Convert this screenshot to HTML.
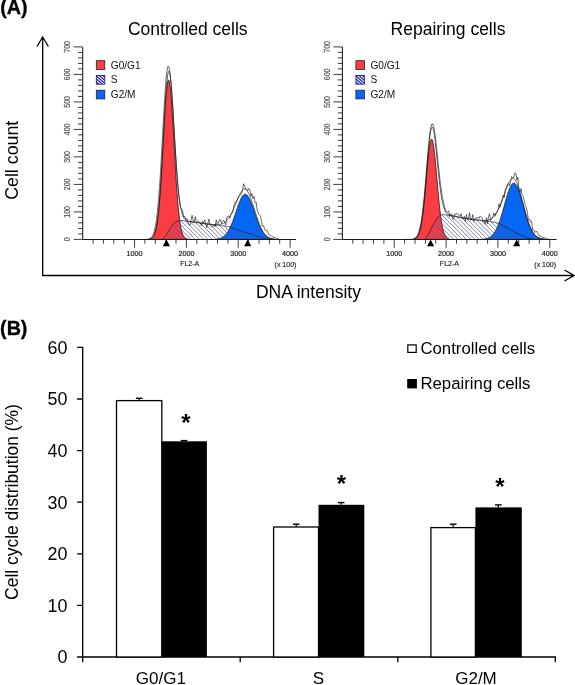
<!DOCTYPE html>
<html><head><meta charset="utf-8"><title>Figure</title>
<style>html,body{margin:0;padding:0;background:#fff}svg{display:block}</style></head>
<body>
<svg width="575" height="685" viewBox="0 0 575 685" font-family="'Liberation Sans', Arial, sans-serif">
<rect width="575" height="685" fill="#fff"/>
<text x="0.3" y="14.3" font-size="19.7" font-weight="bold" fill="#000" stroke="#000" stroke-width="0.35">(A)</text>
<text x="0.1" y="334.9" font-size="19.7" font-weight="bold" fill="#000" stroke="#000" stroke-width="0.35">(B)</text>
<text x="187.8" y="35" font-size="17.5" text-anchor="middle" fill="#000">Controlled cells</text>
<text x="448" y="35" font-size="17.5" text-anchor="middle" fill="#000">Repairing cells</text>
<text transform="translate(17.6,160.3) rotate(-90)" font-size="17.8" text-anchor="middle" fill="#000">Cell count</text>
<text x="308.4" y="297.7" font-size="17.5" text-anchor="middle" fill="#000">DNA intensity</text>
<path d="M42.7,37 V275.5 H574 M37,46.5 L42.7,37 L48.4,46.5 M564.5,270 L574,275.5 L564.5,281" fill="none" stroke="#000" stroke-width="1.3"/>
<defs><clipPath id="clipSL"><path d="M161.2,239.4 L161.7,239.3 L162.2,239.1 L162.7,238.7 L163.2,238.3 L163.7,237.9 L164.2,237.4 L164.7,236.9 L165.2,236.3 L165.7,235.6 L166.2,234.9 L166.7,234.1 L167.2,233.3 L167.7,232.5 L168.2,231.7 L168.7,230.9 L169.2,230 L169.7,229.1 L170.2,228.2 L170.7,227.4 L171.2,226.6 L171.7,225.8 L172.2,225.1 L172.7,224.6 L173.2,224.1 L173.7,223.6 L174.2,223.1 L174.7,222.7 L175.2,222.3 L175.7,222 L176.2,221.7 L176.7,221.4 L177.2,221.3 L177.7,221.1 L178.2,220.9 L178.7,220.8 L179.2,220.6 L179.7,220.6 L180.2,220.5 L180.7,220.5 L181.2,220.5 L181.7,220.5 L182.2,220.6 L182.7,220.6 L183.2,220.6 L183.7,220.7 L184.2,220.8 L184.7,220.8 L185.2,220.9 L185.7,221 L186.2,221 L186.7,221.1 L187.2,221.2 L187.7,221.3 L188.2,221.3 L188.7,221.4 L189.2,221.5 L189.7,221.6 L190.2,221.6 L190.7,221.7 L191.2,221.8 L191.7,221.8 L192.2,221.9 L192.7,222 L193.2,222 L193.7,222.1 L194.2,222.2 L194.7,222.2 L195.2,222.3 L195.7,222.4 L196.2,222.4 L196.7,222.5 L197.2,222.6 L197.7,222.7 L198.2,222.7 L198.7,222.8 L199.2,222.9 L199.7,222.9 L200.2,223 L200.7,223.1 L201.2,223.2 L201.7,223.2 L202.2,223.3 L202.7,223.4 L203.2,223.4 L203.7,223.5 L204.2,223.6 L204.7,223.6 L205.2,223.7 L205.7,223.8 L206.2,223.8 L206.7,223.9 L207.2,224 L207.7,224 L208.2,224.1 L208.7,224.1 L209.2,224.2 L209.7,224.3 L210.2,224.3 L210.7,224.4 L211.2,224.4 L211.7,224.5 L212.2,224.6 L212.7,224.6 L213.2,224.7 L213.7,224.7 L214.2,224.8 L214.7,224.8 L215.2,224.9 L215.7,225 L216.2,225 L216.7,225.1 L217.2,225.1 L217.7,225.2 L218.2,225.3 L218.7,225.3 L219.2,225.4 L219.7,225.4 L220.2,225.5 L220.7,225.6 L221.2,225.6 L221.7,225.7 L222.2,225.7 L222.7,225.8 L223.2,225.8 L223.7,225.9 L224.2,226 L224.7,226 L225.2,226.1 L225.7,226.2 L226.2,226.2 L226.7,226.3 L227.2,226.4 L227.7,226.5 L228.2,226.6 L228.7,226.7 L229.2,226.8 L229.7,227 L230.2,227.1 L230.7,227.3 L231.2,227.4 L231.7,227.6 L232.2,227.8 L232.7,228 L233.2,228.1 L233.7,228.3 L234.2,228.5 L234.7,228.7 L235.2,228.9 L235.7,229.1 L236.2,229.3 L236.7,229.4 L237.2,229.6 L237.7,229.8 L238.2,229.9 L238.7,230.1 L239.2,230.2 L239.7,230.4 L240.2,230.6 L240.7,230.7 L241.2,230.9 L241.7,231 L242.2,231.2 L242.7,231.3 L243.2,231.5 L243.7,231.6 L244.2,231.8 L244.7,232 L245.2,232.1 L245.7,232.3 L246.2,232.4 L246.7,232.6 L247.2,232.8 L247.7,232.9 L248.2,233.1 L248.7,233.3 L249.2,233.4 L249.7,233.6 L250.2,233.8 L250.7,234 L251.2,234.2 L251.7,234.3 L252.2,234.5 L252.7,234.7 L253.2,234.9 L253.7,235.1 L254.2,235.2 L254.7,235.4 L255.2,235.6 L255.7,235.8 L256.2,235.9 L256.7,236.1 L257.2,236.3 L257.7,236.4 L258.2,236.6 L258.7,236.8 L259.2,236.9 L259.7,237.1 L260.2,237.3 L260.7,237.4 L261.2,237.6 L261.7,237.8 L262.2,237.9 L262.7,238.1 L263.2,238.2 L263.7,238.3 L264.2,238.4 L264.7,238.6 L265.2,238.7 L265.7,238.8 L266.2,238.9 L266.7,239 L267.2,239.1 L267.7,239.2 L268.2,239.3 L268.7,239.4 L268.7,239.4 L161.2,239.4 Z"/></clipPath></defs>
<path d="M149.2,239.1 L149.7,239.1 L150.2,238.9 L150.7,238.7 L151.2,238.5 L151.7,238.2 L152.2,237.8 L152.7,237.3 L153.2,236.7 L153.7,235.9 L154.2,234.8 L154.7,233.6 L155.2,232.1 L155.7,230.2 L156.2,228 L156.7,225.3 L157.2,222.2 L157.7,218.6 L158.2,214.4 L158.7,209.7 L159.2,204.3 L159.7,198.4 L160.2,191.8 L160.7,184.7 L161.2,177 L161.7,168.9 L162.2,160.4 L162.7,151.6 L163.2,142.7 L163.7,133.7 L164.2,125 L164.7,116.5 L165.2,108.6 L165.7,101.3 L166.2,94.9 L166.7,89.5 L167.2,85.2 L167.7,82.1 L168.2,80.3 L168.7,79.9 L169.2,80.9 L169.7,83.2 L170.2,86.7 L170.7,91.5 L171.2,97.4 L171.7,104.1 L172.2,111.7 L172.7,119.8 L173.2,128.4 L173.7,137.3 L174.2,146.2 L174.7,155.1 L175.2,163.8 L175.7,172.2 L176.2,180.2 L176.7,187.6 L177.2,194.5 L177.7,200.8 L178.2,206.6 L178.7,211.7 L179.2,216.2 L179.7,220.1 L180.2,223.5 L180.7,226.4 L181.2,228.9 L181.7,231 L182.2,232.7 L182.7,234.1 L183.2,235.3 L183.7,236.2 L184.2,236.9 L184.7,237.5 L185.2,238 L185.7,238.3 L186.2,238.6 L186.7,238.8 L187.2,239 L187.7,239.1 L188.2,239.2 L188.2,239.4 L149.2,239.4 Z" fill="#fa3d43" stroke="#111" stroke-width="0.75"/>
<path d="M215.7,239.1 L216.2,239.1 L216.7,239 L217.2,239 L217.7,238.9 L218.2,238.8 L218.7,238.7 L219.2,238.6 L219.7,238.4 L220.2,238.3 L220.7,238.1 L221.2,237.9 L221.7,237.7 L222.2,237.4 L222.7,237.1 L223.2,236.8 L223.7,236.5 L224.2,236.1 L224.7,235.6 L225.2,235.1 L225.7,234.6 L226.2,234 L226.7,233.4 L227.2,232.7 L227.7,232 L228.2,231.2 L228.7,230.3 L229.2,229.4 L229.7,228.5 L230.2,227.4 L230.7,226.3 L231.2,225.2 L231.7,224 L232.2,222.7 L232.7,221.4 L233.2,220.1 L233.7,218.7 L234.2,217.3 L234.7,215.8 L235.2,214.4 L235.7,212.9 L236.2,211.4 L236.7,209.9 L237.2,208.4 L237.7,207 L238.2,205.6 L238.7,204.2 L239.2,202.9 L239.7,201.6 L240.2,200.4 L240.7,199.3 L241.2,198.3 L241.7,197.4 L242.2,196.5 L242.7,195.8 L243.2,195.3 L243.7,194.8 L244.2,194.5 L244.7,194.3 L245.2,194.2 L245.7,194.3 L246.2,194.5 L246.7,194.8 L247.2,195.3 L247.7,195.8 L248.2,196.5 L248.7,197.4 L249.2,198.3 L249.7,199.3 L250.2,200.4 L250.7,201.6 L251.2,202.9 L251.7,204.2 L252.2,205.6 L252.7,207 L253.2,208.4 L253.7,209.9 L254.2,211.4 L254.7,212.9 L255.2,214.4 L255.7,215.8 L256.2,217.3 L256.7,218.7 L257.2,220.1 L257.7,221.4 L258.2,222.7 L258.7,224 L259.2,225.2 L259.7,226.3 L260.2,227.4 L260.7,228.5 L261.2,229.4 L261.7,230.3 L262.2,231.2 L262.7,232 L263.2,232.7 L263.7,233.4 L264.2,234 L264.7,234.6 L265.2,235.1 L265.7,235.6 L266.2,236.1 L266.7,236.5 L267.2,236.8 L267.7,237.1 L268.2,237.4 L268.7,237.7 L269.2,237.9 L269.7,238.1 L270.2,238.3 L270.7,238.4 L271.2,238.6 L271.7,238.7 L272.2,238.8 L272.7,238.9 L273.2,239 L273.7,239 L274.2,239.1 L274.7,239.1 L274.7,239.4 L215.7,239.4 Z" fill="#0767f5" stroke="#111" stroke-width="0.75"/>
<g clip-path="url(#clipSL)"><path d="M127.2,209.4 l30,30 M131.4,209.4 l30,30 M135.7,209.4 l30,30 M139.9,209.4 l30,30 M144.1,209.4 l30,30 M148.3,209.4 l30,30 M152.6,209.4 l30,30 M156.8,209.4 l30,30 M161,209.4 l30,30 M165.3,209.4 l30,30 M169.5,209.4 l30,30 M173.7,209.4 l30,30 M178,209.4 l30,30 M182.2,209.4 l30,30 M186.4,209.4 l30,30 M190.6,209.4 l30,30 M194.9,209.4 l30,30 M199.1,209.4 l30,30 M203.3,209.4 l30,30 M207.6,209.4 l30,30 M211.8,209.4 l30,30 M216,209.4 l30,30 M220.3,209.4 l30,30 M224.5,209.4 l30,30 M228.7,209.4 l30,30 M232.9,209.4 l30,30 M237.2,209.4 l30,30 M241.4,209.4 l30,30 M245.6,209.4 l30,30 M249.9,209.4 l30,30 M254.1,209.4 l30,30 M258.3,209.4 l30,30 M262.6,209.4 l30,30 M266.8,209.4 l30,30 M271,209.4 l30,30" stroke="#4a4a92" stroke-width="0.68" fill="none"/></g>
<path d="M161.2,239.4 L161.7,239.3 L162.2,239.1 L162.7,238.7 L163.2,238.3 L163.7,237.9 L164.2,237.4 L164.7,236.9 L165.2,236.3 L165.7,235.6 L166.2,234.9 L166.7,234.1 L167.2,233.3 L167.7,232.5 L168.2,231.7 L168.7,230.9 L169.2,230 L169.7,229.1 L170.2,228.2 L170.7,227.4 L171.2,226.6 L171.7,225.8 L172.2,225.1 L172.7,224.6 L173.2,224.1 L173.7,223.6 L174.2,223.1 L174.7,222.7 L175.2,222.3 L175.7,222 L176.2,221.7 L176.7,221.4 L177.2,221.3 L177.7,221.1 L178.2,220.9 L178.7,220.8 L179.2,220.6 L179.7,220.6 L180.2,220.5 L180.7,220.5 L181.2,220.5 L181.7,220.5 L182.2,220.6 L182.7,220.6 L183.2,220.6 L183.7,220.7 L184.2,220.8 L184.7,220.8 L185.2,220.9 L185.7,221 L186.2,221 L186.7,221.1 L187.2,221.2 L187.7,221.3 L188.2,221.3 L188.7,221.4 L189.2,221.5 L189.7,221.6 L190.2,221.6 L190.7,221.7 L191.2,221.8 L191.7,221.8 L192.2,221.9 L192.7,222 L193.2,222 L193.7,222.1 L194.2,222.2 L194.7,222.2 L195.2,222.3 L195.7,222.4 L196.2,222.4 L196.7,222.5 L197.2,222.6 L197.7,222.7 L198.2,222.7 L198.7,222.8 L199.2,222.9 L199.7,222.9 L200.2,223 L200.7,223.1 L201.2,223.2 L201.7,223.2 L202.2,223.3 L202.7,223.4 L203.2,223.4 L203.7,223.5 L204.2,223.6 L204.7,223.6 L205.2,223.7 L205.7,223.8 L206.2,223.8 L206.7,223.9 L207.2,224 L207.7,224 L208.2,224.1 L208.7,224.1 L209.2,224.2 L209.7,224.3 L210.2,224.3 L210.7,224.4 L211.2,224.4 L211.7,224.5 L212.2,224.6 L212.7,224.6 L213.2,224.7 L213.7,224.7 L214.2,224.8 L214.7,224.8 L215.2,224.9 L215.7,225 L216.2,225 L216.7,225.1 L217.2,225.1 L217.7,225.2 L218.2,225.3 L218.7,225.3 L219.2,225.4 L219.7,225.4 L220.2,225.5 L220.7,225.6 L221.2,225.6 L221.7,225.7 L222.2,225.7 L222.7,225.8 L223.2,225.8 L223.7,225.9 L224.2,226 L224.7,226 L225.2,226.1 L225.7,226.2 L226.2,226.2 L226.7,226.3 L227.2,226.4 L227.7,226.5 L228.2,226.6 L228.7,226.7 L229.2,226.8 L229.7,227 L230.2,227.1 L230.7,227.3 L231.2,227.4 L231.7,227.6 L232.2,227.8 L232.7,228 L233.2,228.1 L233.7,228.3 L234.2,228.5 L234.7,228.7 L235.2,228.9 L235.7,229.1 L236.2,229.3 L236.7,229.4 L237.2,229.6 L237.7,229.8 L238.2,229.9 L238.7,230.1 L239.2,230.2 L239.7,230.4 L240.2,230.6 L240.7,230.7 L241.2,230.9 L241.7,231 L242.2,231.2 L242.7,231.3 L243.2,231.5 L243.7,231.6 L244.2,231.8 L244.7,232 L245.2,232.1 L245.7,232.3 L246.2,232.4 L246.7,232.6 L247.2,232.8 L247.7,232.9 L248.2,233.1 L248.7,233.3 L249.2,233.4 L249.7,233.6 L250.2,233.8 L250.7,234 L251.2,234.2 L251.7,234.3 L252.2,234.5 L252.7,234.7 L253.2,234.9 L253.7,235.1 L254.2,235.2 L254.7,235.4 L255.2,235.6 L255.7,235.8 L256.2,235.9 L256.7,236.1 L257.2,236.3 L257.7,236.4 L258.2,236.6 L258.7,236.8 L259.2,236.9 L259.7,237.1 L260.2,237.3 L260.7,237.4 L261.2,237.6 L261.7,237.8 L262.2,237.9 L262.7,238.1 L263.2,238.2 L263.7,238.3 L264.2,238.4 L264.7,238.6 L265.2,238.7 L265.7,238.8 L266.2,238.9 L266.7,239 L267.2,239.1 L267.7,239.2 L268.2,239.3 L268.7,239.4" fill="none" stroke="#222" stroke-width="0.75"/>
<path d="M149.2,239.1 L149.7,239.1 L150.2,238.9 L150.7,238.7 L151.2,238.5 L151.7,238.2 L152.2,237.8 L152.7,237.3 L153.2,236.7 L153.7,235.9 L154.2,234.8 L154.7,233.6 L155.2,232.1 L155.7,230.2 L156.2,228 L156.7,225.3 L157.2,222.2 L157.7,218.6 L158.2,214.4 L158.7,209.7 L159.2,204.3 L159.7,198.4 L160.2,191.8 L160.7,184.7 L161.2,177 L161.7,168.8 L162.2,160 L162.7,150.9 L163.2,141.6 L163.7,132.2 L164.2,123 L164.7,114 L165.2,105.5 L165.7,97.5 L166.2,90.4 L166.7,84.2 L167.2,79 L167.7,75.2 L168.2,72.6 L168.7,71.4 L169.2,71.5 L169.7,72.9 L170.2,75.6 L170.7,79.5 L171.2,84.5 L171.7,90.5 L172.2,97.4 L172.7,105 L173.2,113.1 L173.7,121.5 L174.2,130 L174.7,138.4 L175.2,146.7 L175.7,154.8 L176.2,162.4 L176.7,169.7 L177.2,176.4 L177.7,182.5 L178.2,188.1 L178.7,193 L179.2,197.4 L179.7,201.3 L180.2,204.6 L180.7,207.5 L181.2,210 L181.7,212.1 L182.2,213.9 L182.7,215.3 L183.2,216.5 L183.7,217.5 L184.2,218.3 L184.7,219 L185.2,219.5 L185.7,219.9 L186.2,220.3 L186.7,220.5 L187.2,220.8 L187.7,221 L188.2,221.1 L188.7,221.3 L189.2,221.4 L189.7,221.5 L190.2,221.6 L190.7,221.7 L191.2,221.7 L191.7,221.8 L192.2,221.9 L192.7,221.9 L193.2,222 L193.7,222.1 L194.2,222.2 L194.7,222.2 L195.2,222.3 L195.7,222.4 L196.2,222.4 L196.7,222.5 L197.2,222.6 L197.7,222.7 L198.2,222.7 L198.7,222.8 L199.2,222.9 L199.7,222.9 L200.2,223 L200.7,223.1 L201.2,223.2 L201.7,223.2 L202.2,223.3 L202.7,223.4 L203.2,223.4 L203.7,223.5 L204.2,223.6 L204.7,223.6 L205.2,223.7 L205.7,223.8 L206.2,223.8 L206.7,223.9 L207.2,224 L207.7,224 L208.2,224.1 L208.7,224.1 L209.2,224.2 L209.7,224.2 L210.2,224.3 L210.7,224.3 L211.2,224.4 L211.7,224.4 L212.2,224.5 L212.7,224.5 L213.2,224.6 L213.7,224.6 L214.2,224.6 L214.7,224.7 L215.2,224.7 L215.7,224.7 L216.2,224.7 L216.7,224.7 L217.2,224.7 L217.7,224.7 L218.2,224.7 L218.7,224.6 L219.2,224.6 L219.7,224.5 L220.2,224.4 L220.7,224.3 L221.2,224.2 L221.7,224 L222.2,223.8 L222.7,223.6 L223.2,223.4 L223.7,223.1 L224.2,222.8 L224.7,222.4 L225.2,222 L225.7,221.6 L226.2,221.1 L226.7,220.6 L227.2,220.1 L227.7,219.4 L228.2,218.8 L228.7,218.1 L229.2,217.4 L229.7,216.6 L230.2,215.7 L230.7,214.9 L231.2,213.9 L231.7,213 L232.2,211.9 L232.7,210.9 L233.2,209.8 L233.7,208.7 L234.2,207.5 L234.7,206.3 L235.2,205.1 L235.7,203.9 L236.2,202.6 L236.7,201.4 L237.2,200.2 L237.7,199 L238.2,197.8 L238.7,196.6 L239.2,195.5 L239.7,194.5 L240.2,193.5 L240.7,192.6 L241.2,191.8 L241.7,191.1 L242.2,190.5 L242.7,189.9 L243.2,189.5 L243.7,189.3 L244.2,189.1 L244.7,189.1 L245.2,189.2 L245.7,189.4 L246.2,189.8 L246.7,190.2 L247.2,190.8 L247.7,191.6 L248.2,192.4 L248.7,193.3 L249.2,194.4 L249.7,195.5 L250.2,196.8 L250.7,198.1 L251.2,199.4 L251.7,200.9 L252.2,202.4 L252.7,203.9 L253.2,205.5 L253.7,207 L254.2,208.6 L254.7,210.2 L255.2,211.8 L255.7,213.4 L256.2,214.9 L256.7,216.4 L257.2,217.9 L257.7,219.4 L258.2,220.8 L258.7,222.1 L259.2,223.5 L259.7,224.7 L260.2,225.9 L260.7,227.1 L261.2,228.1 L261.7,229.2 L262.2,230.1 L262.7,231 L263.2,231.9 L263.7,232.6 L264.2,233.4 L264.7,234 L265.2,234.6 L265.7,235.2 L266.2,235.7 L266.7,236.2 L267.2,236.6 L267.7,237 L268.2,237.4 L268.7,237.7 L269.2,238 L269.7,238.2 L270.2,238.3 L270.7,238.5 L271.2,238.6 L271.7,238.7 L272.2,238.8 L272.7,238.9 L273.2,239 L273.7,239 L274.2,239.1" fill="none" stroke="#1a1a1a" stroke-width="0.68"/>
<path d="M142.7,239.4 L143.8,239.4 L144.8,239.4 L145.9,239.2 L146.9,239.4 L148,239.1 L149,238.9 L150.1,238.7 L151.1,237.4 L152.2,236.2 L153.2,234.4 L154.3,231.2 L155.3,226.4 L156.4,220.2 L157.4,211.5 L158.5,200.6 L159.5,186.5 L160.6,170.6 L161.6,152.7 L162.7,133.7 L163.7,113.8 L164.8,96.5 L165.8,81.9 L166.9,71 L167.9,66.3 L169,67.2 L170,73 L171.1,84.1 L172.1,98 L173.2,115.3 L174.2,133.1 L175.3,149.9 L176.3,166.5 L177.4,179.4 L178.4,192.1 L179.5,200.2 L180.5,207.8 L181.6,208.5 L182.6,210.7 L183.7,217.3 L184.7,216.1 L185.8,219.5 L186.8,218.3 L187.9,222 L188.9,224.7 L190,225.2 L191,219.9 L192.1,215.4 L193.1,220.5 L194.2,222.7 L195.2,216.7 L196.3,221.1 L197.3,221.5 L198.4,221.3 L199.4,222.4 L200.5,223 L201.5,226 L202.6,221.3 L203.6,222.9 L204.7,219.8 L205.7,223.9 L206.8,227.9 L207.8,223.5 L208.9,219.1 L209.9,224.4 L211,225.8 L212,226.6 L213.1,226.3 L214.1,224.5 L215.2,226.7 L216.2,220 L217.3,224.4 L218.3,223.4 L219.4,219.9 L220.4,219.5 L221.5,223.5 L222.5,221.7 L223.6,220.2 L224.6,221.8 L225.7,225 L226.7,217.9 L227.8,216.1 L228.8,216 L229.9,217.9 L230.9,214.4 L232,213.6 L233,210.9 L234.1,204.8 L235.1,202 L236.2,201.8 L237.2,199.7 L238.3,197 L239.3,196.4 L240.4,194.4 L241.4,194 L242.5,190.8 L243.5,183.7 L244.6,186.3 L245.6,188.8 L246.7,189.1 L247.7,190.6 L248.8,188.4 L249.8,189.8 L250.9,196.2 L251.9,193.6 L253,198.7 L254,196.5 L255.1,202.6 L256.1,201.8 L257.2,210.3 L258.2,213 L259.3,214.7 L260.3,215.9 L261.4,219.9 L262.4,226.3 L263.5,225.8 L264.5,228.3 L265.6,230.9 L266.6,230.6 L267.7,231.3 L268.7,234.2 L269.8,235.5 L270.8,235.6 L271.9,236.7 L272.9,236.8 L274,237.4 L275,237.7 L276.1,238.4 L277.1,238.4 L278.2,238.7 L279.2,239.4" fill="none" stroke="#1a1a1a" stroke-width="0.65" stroke-linejoin="round"/>
<path d="M82.7,239.4 h-9 M82.7,233.9 h-4.7 M82.7,228.4 h-4.7 M82.7,222.9 h-4.7 M82.7,217.4 h-4.7 M82.7,211.9 h-9 M82.7,206.4 h-4.7 M82.7,200.9 h-4.7 M82.7,195.4 h-4.7 M82.7,189.9 h-4.7 M82.7,184.4 h-9 M82.7,178.9 h-4.7 M82.7,173.4 h-4.7 M82.7,167.9 h-4.7 M82.7,162.4 h-4.7 M82.7,156.9 h-9 M82.7,151.4 h-4.7 M82.7,145.9 h-4.7 M82.7,140.4 h-4.7 M82.7,134.9 h-4.7 M82.7,129.4 h-9 M82.7,123.9 h-4.7 M82.7,118.4 h-4.7 M82.7,112.9 h-4.7 M82.7,107.4 h-4.7 M82.7,101.9 h-9 M82.7,96.4 h-4.7 M82.7,90.9 h-4.7 M82.7,85.4 h-4.7 M82.7,79.9 h-4.7 M82.7,74.4 h-9 M82.7,68.9 h-4.7 M82.7,63.4 h-4.7 M82.7,57.9 h-4.7 M82.7,52.4 h-4.7 M82.7,46.9 h-9 M93.1,239.4 v4.3 M103.4,239.4 v4.3 M113.8,239.4 v4.3 M124.2,239.4 v4.3 M134.6,239.4 v8.3 M144.9,239.4 v4.3 M155.3,239.4 v4.3 M165.7,239.4 v4.3 M176,239.4 v4.3 M186.4,239.4 v8.3 M196.8,239.4 v4.3 M207.1,239.4 v4.3 M217.5,239.4 v4.3 M227.9,239.4 v4.3 M238.2,239.4 v8.3 M248.6,239.4 v4.3 M259,239.4 v4.3 M269.4,239.4 v4.3 M279.7,239.4 v4.3 M290.1,239.4 v8.3" fill="none" stroke="#333" stroke-width="0.95"/>
<path d="M82.7,46.9 V239.4 H296" fill="none" stroke="#1a1a1a" stroke-width="1.05"/>
<text transform="translate(70,239.4) rotate(-90) scale(0.865,1)" text-anchor="middle" font-size="8.2" fill="#5a5a5a" stroke="#5a5a5a" stroke-width="0.25">0</text>
<text transform="translate(70,211.9) rotate(-90) scale(0.865,1)" text-anchor="middle" font-size="8.2" fill="#5a5a5a" stroke="#5a5a5a" stroke-width="0.25">100</text>
<text transform="translate(70,184.4) rotate(-90) scale(0.865,1)" text-anchor="middle" font-size="8.2" fill="#5a5a5a" stroke="#5a5a5a" stroke-width="0.25">200</text>
<text transform="translate(70,156.9) rotate(-90) scale(0.865,1)" text-anchor="middle" font-size="8.2" fill="#5a5a5a" stroke="#5a5a5a" stroke-width="0.25">300</text>
<text transform="translate(70,129.4) rotate(-90) scale(0.865,1)" text-anchor="middle" font-size="8.2" fill="#5a5a5a" stroke="#5a5a5a" stroke-width="0.25">400</text>
<text transform="translate(70,101.9) rotate(-90) scale(0.865,1)" text-anchor="middle" font-size="8.2" fill="#5a5a5a" stroke="#5a5a5a" stroke-width="0.25">500</text>
<text transform="translate(70,74.4) rotate(-90) scale(0.865,1)" text-anchor="middle" font-size="8.2" fill="#5a5a5a" stroke="#5a5a5a" stroke-width="0.25">600</text>
<text transform="translate(70,46.9) rotate(-90) scale(0.865,1)" text-anchor="middle" font-size="8.2" fill="#5a5a5a" stroke="#5a5a5a" stroke-width="0.25">700</text>
<text x="134.6" y="256.4" text-anchor="middle" font-size="7.2" fill="#222" stroke="#222" stroke-width="0.2">1000</text>
<text x="186.4" y="256.4" text-anchor="middle" font-size="7.2" fill="#222" stroke="#222" stroke-width="0.2">2000</text>
<text x="238.2" y="256.4" text-anchor="middle" font-size="7.2" fill="#222" stroke="#222" stroke-width="0.2">3000</text>
<text x="290.1" y="256.4" text-anchor="middle" font-size="7.2" fill="#222" stroke="#222" stroke-width="0.2">4000</text>
<text x="189.7" y="266.4" text-anchor="middle" font-size="7" fill="#222" stroke="#222" stroke-width="0.15">FL2-A</text>
<text x="285.5" y="266.5" text-anchor="middle" font-size="7" fill="#222" stroke="#222" stroke-width="0.15">(x 100)</text>
<path d="M166.4,239.6 l3.6,6.6 h-7.2 Z" fill="#000"/>
<path d="M247.7,239.6 l3.6,6.6 h-7.2 Z" fill="#000"/>
<rect x="96.3" y="60.7" width="8.5" height="8.7" fill="#fa3d43" stroke="#222" stroke-width="0.8"/>
<rect x="96.3" y="75.5" width="8.5" height="8.7" fill="#fff"/>
<defs><clipPath id="lgL"><rect x="96.3" y="75.5" width="8.5" height="8.7"/></clipPath></defs>
<path clip-path="url(#lgL)" d="M95.8,63.5 l9.5,8.2 M95.8,66.5 l9.5,8.2 M95.8,69.5 l9.5,8.2 M95.8,72.5 l9.5,8.2 M95.8,75.5 l9.5,8.2 M95.8,78.5 l9.5,8.2 M95.8,81.5 l9.5,8.2 M95.8,84.5 l9.5,8.2 M95.8,87.5 l9.5,8.2" stroke="#1818d4" stroke-width="1.15" fill="none"/>
<rect x="96.3" y="75.5" width="8.5" height="8.7" fill="none" stroke="#222" stroke-width="0.8"/>
<rect x="96.3" y="90.2" width="8.5" height="8.7" fill="#0767f5" stroke="#222" stroke-width="0.8"/>
<text x="110.8" y="68.6" font-size="10.15" fill="#111">G0/G1</text>
<text x="110.8" y="83.3" font-size="10.15" fill="#111">S</text>
<text x="110.8" y="98" font-size="10.15" fill="#111">G2/M</text>
<defs><clipPath id="clipSR"><path d="M423.9,239.4 L424.4,239.3 L424.9,238.9 L425.4,238.5 L425.9,237.9 L426.4,237.4 L426.9,236.7 L427.4,236 L427.9,235.2 L428.4,234.3 L428.9,233.4 L429.4,232.5 L429.9,231.5 L430.4,230.6 L430.9,229.5 L431.4,228.5 L431.9,227.4 L432.4,226.4 L432.9,225.4 L433.4,224.4 L433.9,223.4 L434.4,222.6 L434.9,221.7 L435.4,220.9 L435.9,220.1 L436.4,219.2 L436.9,218.4 L437.4,217.7 L437.9,217 L438.4,216.5 L438.9,216.1 L439.4,215.7 L439.9,215.5 L440.4,215.3 L440.9,215.1 L441.4,214.9 L441.9,214.7 L442.4,214.6 L442.9,214.6 L443.4,214.6 L443.9,214.6 L444.4,214.7 L444.9,214.7 L445.4,214.8 L445.9,214.8 L446.4,214.9 L446.9,215 L447.4,215.1 L447.9,215.2 L448.4,215.2 L448.9,215.3 L449.4,215.4 L449.9,215.5 L450.4,215.6 L450.9,215.6 L451.4,215.7 L451.9,215.8 L452.4,215.9 L452.9,216 L453.4,216.1 L453.9,216.2 L454.4,216.3 L454.9,216.3 L455.4,216.4 L455.9,216.5 L456.4,216.6 L456.9,216.7 L457.4,216.8 L457.9,216.9 L458.4,217 L458.9,217.1 L459.4,217.2 L459.9,217.3 L460.4,217.4 L460.9,217.5 L461.4,217.6 L461.9,217.7 L462.4,217.8 L462.9,217.9 L463.4,218 L463.9,218 L464.4,218.1 L464.9,218.2 L465.4,218.3 L465.9,218.3 L466.4,218.4 L466.9,218.5 L467.4,218.6 L467.9,218.7 L468.4,218.7 L468.9,218.8 L469.4,218.9 L469.9,218.9 L470.4,219 L470.9,219.1 L471.4,219.2 L471.9,219.2 L472.4,219.3 L472.9,219.4 L473.4,219.4 L473.9,219.5 L474.4,219.6 L474.9,219.7 L475.4,219.7 L475.9,219.8 L476.4,219.9 L476.9,219.9 L477.4,220 L477.9,220.1 L478.4,220.1 L478.9,220.2 L479.4,220.3 L479.9,220.3 L480.4,220.4 L480.9,220.5 L481.4,220.5 L481.9,220.6 L482.4,220.7 L482.9,220.7 L483.4,220.8 L483.9,220.9 L484.4,220.9 L484.9,221 L485.4,221.1 L485.9,221.1 L486.4,221.2 L486.9,221.3 L487.4,221.3 L487.9,221.4 L488.4,221.4 L488.9,221.5 L489.4,221.5 L489.9,221.6 L490.4,221.7 L490.9,221.7 L491.4,221.8 L491.9,221.8 L492.4,221.9 L492.9,222 L493.4,222 L493.9,222.1 L494.4,222.2 L494.9,222.3 L495.4,222.4 L495.9,222.5 L496.4,222.7 L496.9,222.8 L497.4,223 L497.9,223.2 L498.4,223.4 L498.9,223.6 L499.4,223.9 L499.9,224.1 L500.4,224.4 L500.9,224.6 L501.4,224.9 L501.9,225.1 L502.4,225.4 L502.9,225.6 L503.4,225.8 L503.9,226.1 L504.4,226.4 L504.9,226.6 L505.4,226.9 L505.9,227.2 L506.4,227.5 L506.9,227.8 L507.4,228.1 L507.9,228.3 L508.4,228.6 L508.9,228.9 L509.4,229.2 L509.9,229.5 L510.4,229.8 L510.9,230.1 L511.4,230.4 L511.9,230.6 L512.4,230.9 L512.9,231.2 L513.4,231.4 L513.9,231.7 L514.4,232 L514.9,232.2 L515.4,232.5 L515.9,232.7 L516.4,233 L516.9,233.2 L517.4,233.5 L517.9,233.8 L518.4,234 L518.9,234.2 L519.4,234.5 L519.9,234.7 L520.4,235 L520.9,235.2 L521.4,235.4 L521.9,235.6 L522.4,235.8 L522.9,236 L523.4,236.2 L523.9,236.5 L524.4,236.7 L524.9,236.9 L525.4,237.1 L525.9,237.3 L526.4,237.4 L526.9,237.6 L527.4,237.8 L527.9,238 L528.4,238.1 L528.9,238.3 L529.4,238.4 L529.9,238.5 L530.4,238.6 L530.9,238.8 L531.4,238.9 L531.9,239 L532.4,239.1 L532.9,239.2 L533.4,239.3 L533.9,239.3 L534.4,239.4 L534.4,239.4 L423.9,239.4 Z"/></clipPath></defs>
<path d="M413.4,239.1 L413.9,239 L414.4,238.9 L414.9,238.7 L415.4,238.5 L415.9,238.2 L416.4,237.8 L416.9,237.3 L417.4,236.6 L417.9,235.8 L418.4,234.9 L418.9,233.7 L419.4,232.3 L419.9,230.6 L420.4,228.6 L420.9,226.3 L421.4,223.7 L421.9,220.6 L422.4,217.2 L422.9,213.3 L423.4,209.1 L423.9,204.5 L424.4,199.5 L424.9,194.3 L425.4,188.8 L425.9,183.1 L426.4,177.4 L426.9,171.7 L427.4,166.1 L427.9,160.8 L428.4,155.8 L428.9,151.3 L429.4,147.4 L429.9,144.1 L430.4,141.6 L430.9,140 L431.4,139.2 L431.9,139.3 L432.4,140.2 L432.9,142.1 L433.4,144.7 L433.9,148.1 L434.4,152.2 L434.9,156.8 L435.4,161.8 L435.9,167.2 L436.4,172.8 L436.9,178.6 L437.4,184.3 L437.9,189.9 L438.4,195.4 L438.9,200.6 L439.4,205.4 L439.9,210 L440.4,214.1 L440.9,217.9 L441.4,221.3 L441.9,224.2 L442.4,226.8 L442.9,229.1 L443.4,231 L443.9,232.6 L444.4,234 L444.9,235.1 L445.4,236 L445.9,236.8 L446.4,237.4 L446.9,237.8 L447.4,238.2 L447.9,238.5 L448.4,238.7 L448.9,238.9 L449.4,239 L449.9,239.1 L449.9,239.4 L413.4,239.4 Z" fill="#fa3d43" stroke="#111" stroke-width="0.75"/>
<path d="M482.9,239.1 L483.4,239.1 L483.9,239 L484.4,239 L484.9,238.9 L485.4,238.8 L485.9,238.7 L486.4,238.6 L486.9,238.5 L487.4,238.3 L487.9,238.1 L488.4,237.9 L488.9,237.7 L489.4,237.5 L489.9,237.2 L490.4,236.9 L490.9,236.5 L491.4,236.1 L491.9,235.7 L492.4,235.2 L492.9,234.6 L493.4,234.1 L493.9,233.4 L494.4,232.7 L494.9,231.9 L495.4,231.1 L495.9,230.2 L496.4,229.2 L496.9,228.2 L497.4,227.1 L497.9,225.9 L498.4,224.7 L498.9,223.4 L499.4,222 L499.9,220.5 L500.4,219 L500.9,217.4 L501.4,215.8 L501.9,214.1 L502.4,212.4 L502.9,210.7 L503.4,208.9 L503.9,207.1 L504.4,205.3 L504.9,203.4 L505.4,201.6 L505.9,199.9 L506.4,198.1 L506.9,196.4 L507.4,194.7 L507.9,193.2 L508.4,191.7 L508.9,190.3 L509.4,188.9 L509.9,187.7 L510.4,186.7 L510.9,185.7 L511.4,184.9 L511.9,184.2 L512.4,183.7 L512.9,183.4 L513.4,183.2 L513.9,183.1 L514.4,183.2 L514.9,183.5 L515.4,183.9 L515.9,184.5 L516.4,185.2 L516.9,186.1 L517.4,187.1 L517.9,188.2 L518.4,189.5 L518.9,190.8 L519.4,192.3 L519.9,193.8 L520.4,195.4 L520.9,197.1 L521.4,198.8 L521.9,200.6 L522.4,202.4 L522.9,204.2 L523.4,206 L523.9,207.8 L524.4,209.6 L524.9,211.4 L525.4,213.1 L525.9,214.8 L526.4,216.5 L526.9,218.1 L527.4,219.6 L527.9,221.1 L528.4,222.5 L528.9,223.9 L529.4,225.2 L529.9,226.4 L530.4,227.6 L530.9,228.6 L531.4,229.6 L531.9,230.6 L532.4,231.5 L532.9,232.3 L533.4,233 L533.9,233.7 L534.4,234.3 L534.9,234.9 L535.4,235.4 L535.9,235.9 L536.4,236.3 L536.9,236.7 L537.4,237 L537.9,237.3 L538.4,237.6 L538.9,237.8 L539.4,238 L539.9,238.2 L540.4,238.4 L540.9,238.5 L541.4,238.6 L541.9,238.8 L542.4,238.9 L542.9,238.9 L543.4,239 L543.9,239.1 L544.4,239.1 L544.4,239.4 L482.9,239.4 Z" fill="#0767f5" stroke="#111" stroke-width="0.75"/>
<g clip-path="url(#clipSR)"><path d="M389.9,209.4 l30,30 M394.1,209.4 l30,30 M398.4,209.4 l30,30 M402.6,209.4 l30,30 M406.8,209.4 l30,30 M411.1,209.4 l30,30 M415.3,209.4 l30,30 M419.5,209.4 l30,30 M423.7,209.4 l30,30 M428,209.4 l30,30 M432.2,209.4 l30,30 M436.4,209.4 l30,30 M440.7,209.4 l30,30 M444.9,209.4 l30,30 M449.1,209.4 l30,30 M453.4,209.4 l30,30 M457.6,209.4 l30,30 M461.8,209.4 l30,30 M466,209.4 l30,30 M470.3,209.4 l30,30 M474.5,209.4 l30,30 M478.7,209.4 l30,30 M483,209.4 l30,30 M487.2,209.4 l30,30 M491.4,209.4 l30,30 M495.7,209.4 l30,30 M499.9,209.4 l30,30 M504.1,209.4 l30,30 M508.3,209.4 l30,30 M512.6,209.4 l30,30 M516.8,209.4 l30,30 M521,209.4 l30,30 M525.3,209.4 l30,30 M529.5,209.4 l30,30 M533.7,209.4 l30,30 M538,209.4 l30,30" stroke="#4a4a92" stroke-width="0.68" fill="none"/></g>
<path d="M423.9,239.4 L424.4,239.3 L424.9,238.9 L425.4,238.5 L425.9,237.9 L426.4,237.4 L426.9,236.7 L427.4,236 L427.9,235.2 L428.4,234.3 L428.9,233.4 L429.4,232.5 L429.9,231.5 L430.4,230.6 L430.9,229.5 L431.4,228.5 L431.9,227.4 L432.4,226.4 L432.9,225.4 L433.4,224.4 L433.9,223.4 L434.4,222.6 L434.9,221.7 L435.4,220.9 L435.9,220.1 L436.4,219.2 L436.9,218.4 L437.4,217.7 L437.9,217 L438.4,216.5 L438.9,216.1 L439.4,215.7 L439.9,215.5 L440.4,215.3 L440.9,215.1 L441.4,214.9 L441.9,214.7 L442.4,214.6 L442.9,214.6 L443.4,214.6 L443.9,214.6 L444.4,214.7 L444.9,214.7 L445.4,214.8 L445.9,214.8 L446.4,214.9 L446.9,215 L447.4,215.1 L447.9,215.2 L448.4,215.2 L448.9,215.3 L449.4,215.4 L449.9,215.5 L450.4,215.6 L450.9,215.6 L451.4,215.7 L451.9,215.8 L452.4,215.9 L452.9,216 L453.4,216.1 L453.9,216.2 L454.4,216.3 L454.9,216.3 L455.4,216.4 L455.9,216.5 L456.4,216.6 L456.9,216.7 L457.4,216.8 L457.9,216.9 L458.4,217 L458.9,217.1 L459.4,217.2 L459.9,217.3 L460.4,217.4 L460.9,217.5 L461.4,217.6 L461.9,217.7 L462.4,217.8 L462.9,217.9 L463.4,218 L463.9,218 L464.4,218.1 L464.9,218.2 L465.4,218.3 L465.9,218.3 L466.4,218.4 L466.9,218.5 L467.4,218.6 L467.9,218.7 L468.4,218.7 L468.9,218.8 L469.4,218.9 L469.9,218.9 L470.4,219 L470.9,219.1 L471.4,219.2 L471.9,219.2 L472.4,219.3 L472.9,219.4 L473.4,219.4 L473.9,219.5 L474.4,219.6 L474.9,219.7 L475.4,219.7 L475.9,219.8 L476.4,219.9 L476.9,219.9 L477.4,220 L477.9,220.1 L478.4,220.1 L478.9,220.2 L479.4,220.3 L479.9,220.3 L480.4,220.4 L480.9,220.5 L481.4,220.5 L481.9,220.6 L482.4,220.7 L482.9,220.7 L483.4,220.8 L483.9,220.9 L484.4,220.9 L484.9,221 L485.4,221.1 L485.9,221.1 L486.4,221.2 L486.9,221.3 L487.4,221.3 L487.9,221.4 L488.4,221.4 L488.9,221.5 L489.4,221.5 L489.9,221.6 L490.4,221.7 L490.9,221.7 L491.4,221.8 L491.9,221.8 L492.4,221.9 L492.9,222 L493.4,222 L493.9,222.1 L494.4,222.2 L494.9,222.3 L495.4,222.4 L495.9,222.5 L496.4,222.7 L496.9,222.8 L497.4,223 L497.9,223.2 L498.4,223.4 L498.9,223.6 L499.4,223.9 L499.9,224.1 L500.4,224.4 L500.9,224.6 L501.4,224.9 L501.9,225.1 L502.4,225.4 L502.9,225.6 L503.4,225.8 L503.9,226.1 L504.4,226.4 L504.9,226.6 L505.4,226.9 L505.9,227.2 L506.4,227.5 L506.9,227.8 L507.4,228.1 L507.9,228.3 L508.4,228.6 L508.9,228.9 L509.4,229.2 L509.9,229.5 L510.4,229.8 L510.9,230.1 L511.4,230.4 L511.9,230.6 L512.4,230.9 L512.9,231.2 L513.4,231.4 L513.9,231.7 L514.4,232 L514.9,232.2 L515.4,232.5 L515.9,232.7 L516.4,233 L516.9,233.2 L517.4,233.5 L517.9,233.8 L518.4,234 L518.9,234.2 L519.4,234.5 L519.9,234.7 L520.4,235 L520.9,235.2 L521.4,235.4 L521.9,235.6 L522.4,235.8 L522.9,236 L523.4,236.2 L523.9,236.5 L524.4,236.7 L524.9,236.9 L525.4,237.1 L525.9,237.3 L526.4,237.4 L526.9,237.6 L527.4,237.8 L527.9,238 L528.4,238.1 L528.9,238.3 L529.4,238.4 L529.9,238.5 L530.4,238.6 L530.9,238.8 L531.4,238.9 L531.9,239 L532.4,239.1 L532.9,239.2 L533.4,239.3 L533.9,239.3 L534.4,239.4" fill="none" stroke="#222" stroke-width="0.75"/>
<path d="M413.4,239.1 L413.9,239 L414.4,238.9 L414.9,238.7 L415.4,238.5 L415.9,238.2 L416.4,237.8 L416.9,237.3 L417.4,236.6 L417.9,235.8 L418.4,234.9 L418.9,233.7 L419.4,232.3 L419.9,230.6 L420.4,228.6 L420.9,226.3 L421.4,223.7 L421.9,220.6 L422.4,217.2 L422.9,213.3 L423.4,209.1 L423.9,204.5 L424.4,199.5 L424.9,193.8 L425.4,187.9 L425.9,181.7 L426.4,175.4 L426.9,169 L427.4,162.8 L427.9,156.6 L428.4,150.8 L428.9,145.3 L429.4,140.4 L429.9,136.3 L430.4,132.8 L430.9,130.1 L431.4,128.3 L431.9,127.3 L432.4,127.2 L432.9,128 L433.4,129.7 L433.9,132.1 L434.4,135.3 L434.9,139.1 L435.4,143.3 L435.9,147.9 L436.4,152.7 L436.9,157.6 L437.4,162.6 L437.9,167.6 L438.4,172.5 L438.9,177.2 L439.4,181.8 L439.9,186.1 L440.4,190 L440.9,193.5 L441.4,196.7 L441.9,199.6 L442.4,202.1 L442.9,204.3 L443.4,206.2 L443.9,207.8 L444.4,209.2 L444.9,210.4 L445.4,211.4 L445.9,212.2 L446.4,212.9 L446.9,213.4 L447.4,213.9 L447.9,214.3 L448.4,214.6 L448.9,214.8 L449.4,215.1 L449.9,215.2 L450.4,215.4 L450.9,215.5 L451.4,215.6 L451.9,215.7 L452.4,215.8 L452.9,215.9 L453.4,216 L453.9,216.1 L454.4,216.2 L454.9,216.3 L455.4,216.4 L455.9,216.5 L456.4,216.6 L456.9,216.7 L457.4,216.8 L457.9,216.9 L458.4,217 L458.9,217.1 L459.4,217.2 L459.9,217.3 L460.4,217.4 L460.9,217.5 L461.4,217.6 L461.9,217.7 L462.4,217.8 L462.9,217.9 L463.4,218 L463.9,218 L464.4,218.1 L464.9,218.2 L465.4,218.3 L465.9,218.3 L466.4,218.4 L466.9,218.5 L467.4,218.6 L467.9,218.7 L468.4,218.7 L468.9,218.8 L469.4,218.9 L469.9,218.9 L470.4,219 L470.9,219.1 L471.4,219.2 L471.9,219.2 L472.4,219.3 L472.9,219.4 L473.4,219.4 L473.9,219.5 L474.4,219.6 L474.9,219.6 L475.4,219.7 L475.9,219.8 L476.4,219.8 L476.9,219.9 L477.4,220 L477.9,220 L478.4,220.1 L478.9,220.1 L479.4,220.2 L479.9,220.3 L480.4,220.3 L480.9,220.3 L481.4,220.4 L481.9,220.4 L482.4,220.5 L482.9,220.5 L483.4,220.5 L483.9,220.5 L484.4,220.5 L484.9,220.5 L485.4,220.5 L485.9,220.5 L486.4,220.4 L486.9,220.4 L487.4,220.3 L487.9,220.2 L488.4,220.1 L488.9,219.9 L489.4,219.7 L489.9,219.5 L490.4,219.3 L490.9,219 L491.4,218.7 L491.9,218.3 L492.4,217.9 L492.9,217.5 L493.4,217 L493.9,216.5 L494.4,215.9 L494.9,215.3 L495.4,214.6 L495.9,213.9 L496.4,213.1 L496.9,212.3 L497.4,211.4 L497.9,210.5 L498.4,209.6 L498.9,208.6 L499.4,207.5 L499.9,206.4 L500.4,205.2 L500.9,204 L501.4,202.7 L501.9,201.4 L502.4,200 L502.9,198.6 L503.4,197.1 L503.9,195.7 L504.4,194.3 L504.9,192.8 L505.4,191.4 L505.9,190 L506.4,188.7 L506.9,187.3 L507.4,186.1 L507.9,184.9 L508.4,183.8 L508.9,182.7 L509.4,181.8 L509.9,181 L510.4,180.2 L510.9,179.6 L511.4,179.1 L511.9,178.8 L512.4,178.6 L512.9,178.5 L513.4,178.6 L513.9,178.8 L514.4,179.1 L514.9,179.7 L515.4,180.3 L515.9,181.1 L516.4,182.1 L516.9,183.1 L517.4,184.3 L517.9,185.6 L518.4,187 L518.9,188.6 L519.4,190.2 L519.9,191.8 L520.4,193.6 L520.9,195.4 L521.4,197.2 L521.9,199.1 L522.4,201 L522.9,202.9 L523.4,204.8 L523.9,206.7 L524.4,208.6 L524.9,210.5 L525.4,212.3 L525.9,214.1 L526.4,215.9 L526.9,217.6 L527.4,219.2 L527.9,220.8 L528.4,222.3 L528.9,223.7 L529.4,225 L529.9,226.3 L530.4,227.5 L530.9,228.6 L531.4,229.7 L531.9,230.7 L532.4,231.6 L532.9,232.5 L533.4,233.2 L533.9,234 L534.4,234.6 L534.9,235.1 L535.4,235.6 L535.9,236.1 L536.4,236.5 L536.9,236.8 L537.4,237.1 L537.9,237.4 L538.4,237.7 L538.9,237.9 L539.4,238.1 L539.9,238.3 L540.4,238.4 L540.9,238.6 L541.4,238.7 L541.9,238.8 L542.4,238.9 L542.9,239 L543.4,239 L543.9,239.1 L544.4,239.1" fill="none" stroke="#1a1a1a" stroke-width="0.68"/>
<path d="M402.4,239.4 L403.4,239.4 L404.5,239.4 L405.6,239.4 L406.6,239.4 L407.7,239.4 L408.7,239.4 L409.8,239.3 L410.8,239.2 L411.9,239.4 L412.9,239.2 L414,238.8 L415,238 L416.1,237.1 L417.1,236.1 L418.2,234 L419.2,230.5 L420.3,226.1 L421.3,220.7 L422.4,213.5 L423.4,204.3 L424.5,194.2 L425.5,181.8 L426.6,168.7 L427.6,156 L428.7,144.3 L429.7,134.3 L430.8,127.6 L431.8,123.9 L432.9,123.9 L433.9,127.3 L435,133.9 L436,142.5 L437.1,152.3 L438.1,162.5 L439.2,172.8 L440.2,182.1 L441.3,189.5 L442.3,198.3 L443.4,200.5 L444.4,206.5 L445.5,211.4 L446.5,211.4 L447.6,212.2 L448.6,210.8 L449.7,216.6 L450.7,213.9 L451.8,214.5 L452.8,219.3 L453.9,218.3 L454.9,214 L456,214 L457,213.2 L458.1,214.8 L459.1,215.4 L460.2,216.3 L461.2,213.7 L462.3,219.1 L463.3,217.5 L464.4,216.3 L465.4,221.4 L466.5,214.4 L467.5,219.8 L468.6,218.1 L469.6,212.7 L470.7,220.3 L471.7,219.7 L472.8,214.6 L473.8,221.4 L474.9,219.9 L475.9,217.7 L477,217.9 L478,217.7 L479.1,218.4 L480.1,216 L481.2,217 L482.2,218.1 L483.3,221.3 L484.3,221.4 L485.4,224.3 L486.4,217.7 L487.5,223.7 L488.5,216.6 L489.6,213.8 L490.6,220.5 L491.7,218.8 L492.7,217.4 L493.8,213.1 L494.8,216.1 L495.9,212.8 L496.9,212.2 L498,209.7 L499,203.8 L500.1,207.3 L501.1,202.3 L502.2,199.2 L503.2,195 L504.3,197.5 L505.3,188.7 L506.4,187.7 L507.4,184 L508.5,183.6 L509.5,185.8 L510.6,181.6 L511.6,176.6 L512.7,177.8 L513.7,177.7 L514.8,173.4 L515.8,173.2 L516.9,180.2 L517.9,177.3 L519,189.5 L520,192.5 L521.1,188.5 L522.1,194.8 L523.2,196.3 L524.2,200.3 L525.3,205.6 L526.3,207.4 L527.4,212.4 L528.4,219.9 L529.5,218.9 L530.5,222 L531.6,221.3 L532.6,229.7 L533.7,229.7 L534.7,232.2 L535.8,231.8 L536.8,231.4 L537.9,233.7 L538.9,235.6 L540,235.9 L541,236 L542.1,237.3 L543.1,237.9 L544.2,237.7 L545.2,238.3 L546.3,238.7 L547.3,238.8 L548.4,239.1 L549.4,239.4" fill="none" stroke="#1a1a1a" stroke-width="0.65" stroke-linejoin="round"/>
<path d="M342.4,239.4 h-9 M342.4,233.9 h-4.7 M342.4,228.4 h-4.7 M342.4,222.9 h-4.7 M342.4,217.4 h-4.7 M342.4,211.9 h-9 M342.4,206.4 h-4.7 M342.4,200.9 h-4.7 M342.4,195.4 h-4.7 M342.4,189.9 h-4.7 M342.4,184.4 h-9 M342.4,178.9 h-4.7 M342.4,173.4 h-4.7 M342.4,167.9 h-4.7 M342.4,162.4 h-4.7 M342.4,156.9 h-9 M342.4,151.4 h-4.7 M342.4,145.9 h-4.7 M342.4,140.4 h-4.7 M342.4,134.9 h-4.7 M342.4,129.4 h-9 M342.4,123.9 h-4.7 M342.4,118.4 h-4.7 M342.4,112.9 h-4.7 M342.4,107.4 h-4.7 M342.4,101.9 h-9 M342.4,96.4 h-4.7 M342.4,90.9 h-4.7 M342.4,85.4 h-4.7 M342.4,79.9 h-4.7 M342.4,74.4 h-9 M342.4,68.9 h-4.7 M342.4,63.4 h-4.7 M342.4,57.9 h-4.7 M342.4,52.4 h-4.7 M342.4,46.9 h-9 M352.8,239.4 v4.3 M363.1,239.4 v4.3 M373.5,239.4 v4.3 M383.9,239.4 v4.3 M394.2,239.4 v8.3 M404.6,239.4 v4.3 M415,239.4 v4.3 M425.4,239.4 v4.3 M435.7,239.4 v4.3 M446.1,239.4 v8.3 M456.5,239.4 v4.3 M466.8,239.4 v4.3 M477.2,239.4 v4.3 M487.6,239.4 v4.3 M497.9,239.4 v8.3 M508.3,239.4 v4.3 M518.7,239.4 v4.3 M529.1,239.4 v4.3 M539.4,239.4 v4.3 M549.8,239.4 v8.3" fill="none" stroke="#333" stroke-width="0.95"/>
<path d="M342.4,46.9 V239.4 H556.6" fill="none" stroke="#1a1a1a" stroke-width="1.05"/>
<text transform="translate(329.7,239.4) rotate(-90) scale(0.865,1)" text-anchor="middle" font-size="8.2" fill="#5a5a5a" stroke="#5a5a5a" stroke-width="0.25">0</text>
<text transform="translate(329.7,211.9) rotate(-90) scale(0.865,1)" text-anchor="middle" font-size="8.2" fill="#5a5a5a" stroke="#5a5a5a" stroke-width="0.25">100</text>
<text transform="translate(329.7,184.4) rotate(-90) scale(0.865,1)" text-anchor="middle" font-size="8.2" fill="#5a5a5a" stroke="#5a5a5a" stroke-width="0.25">200</text>
<text transform="translate(329.7,156.9) rotate(-90) scale(0.865,1)" text-anchor="middle" font-size="8.2" fill="#5a5a5a" stroke="#5a5a5a" stroke-width="0.25">300</text>
<text transform="translate(329.7,129.4) rotate(-90) scale(0.865,1)" text-anchor="middle" font-size="8.2" fill="#5a5a5a" stroke="#5a5a5a" stroke-width="0.25">400</text>
<text transform="translate(329.7,101.9) rotate(-90) scale(0.865,1)" text-anchor="middle" font-size="8.2" fill="#5a5a5a" stroke="#5a5a5a" stroke-width="0.25">500</text>
<text transform="translate(329.7,74.4) rotate(-90) scale(0.865,1)" text-anchor="middle" font-size="8.2" fill="#5a5a5a" stroke="#5a5a5a" stroke-width="0.25">600</text>
<text transform="translate(329.7,46.9) rotate(-90) scale(0.865,1)" text-anchor="middle" font-size="8.2" fill="#5a5a5a" stroke="#5a5a5a" stroke-width="0.25">700</text>
<text x="394.2" y="256.4" text-anchor="middle" font-size="7.2" fill="#222" stroke="#222" stroke-width="0.2">1000</text>
<text x="446.1" y="256.4" text-anchor="middle" font-size="7.2" fill="#222" stroke="#222" stroke-width="0.2">2000</text>
<text x="497.9" y="256.4" text-anchor="middle" font-size="7.2" fill="#222" stroke="#222" stroke-width="0.2">3000</text>
<text x="549.8" y="256.4" text-anchor="middle" font-size="7.2" fill="#222" stroke="#222" stroke-width="0.2">4000</text>
<text x="449.4" y="266.4" text-anchor="middle" font-size="7" fill="#222" stroke="#222" stroke-width="0.15">FL2-A</text>
<text x="545.2" y="266.5" text-anchor="middle" font-size="7" fill="#222" stroke="#222" stroke-width="0.15">(x 100)</text>
<path d="M430.6,239.6 l3.6,6.6 h-7.2 Z" fill="#000"/>
<path d="M516.7,239.6 l3.6,6.6 h-7.2 Z" fill="#000"/>
<rect x="355.9" y="60.7" width="8.5" height="8.7" fill="#fa3d43" stroke="#222" stroke-width="0.8"/>
<rect x="355.9" y="75.5" width="8.5" height="8.7" fill="#fff"/>
<defs><clipPath id="lgR"><rect x="355.9" y="75.5" width="8.5" height="8.7"/></clipPath></defs>
<path clip-path="url(#lgR)" d="M355.4,63.5 l9.5,8.2 M355.4,66.5 l9.5,8.2 M355.4,69.5 l9.5,8.2 M355.4,72.5 l9.5,8.2 M355.4,75.5 l9.5,8.2 M355.4,78.5 l9.5,8.2 M355.4,81.5 l9.5,8.2 M355.4,84.5 l9.5,8.2 M355.4,87.5 l9.5,8.2" stroke="#1818d4" stroke-width="1.15" fill="none"/>
<rect x="355.9" y="75.5" width="8.5" height="8.7" fill="none" stroke="#222" stroke-width="0.8"/>
<rect x="355.9" y="90.2" width="8.5" height="8.7" fill="#0767f5" stroke="#222" stroke-width="0.8"/>
<text x="370.4" y="68.6" font-size="10.15" fill="#111">G0/G1</text>
<text x="370.4" y="83.3" font-size="10.15" fill="#111">S</text>
<text x="370.4" y="98" font-size="10.15" fill="#111">G2/M</text>
<path d="M82.7,657 h-5.6 M82.7,605.4 h-5.6 M82.7,553.8 h-5.6 M82.7,502.2 h-5.6 M82.7,450.6 h-5.6 M82.7,399 h-5.6 M82.7,347.4 h-5.6 M82.7,657 v5.3 M240.2,657 v5.3 M397.8,657 v5.3 M555.3,657 v5.3 M82.7,346.8 V657" fill="none" stroke="#000" stroke-width="1.3"/>
<path d="M82,657 H556" fill="none" stroke="#000" stroke-width="1.7"/>
<text x="67.5" y="663.3" font-size="17.9" text-anchor="end" fill="#000">0</text>
<text x="67.5" y="611.7" font-size="17.9" text-anchor="end" fill="#000">10</text>
<text x="67.5" y="560.1" font-size="17.9" text-anchor="end" fill="#000">20</text>
<text x="67.5" y="508.5" font-size="17.9" text-anchor="end" fill="#000">30</text>
<text x="67.5" y="456.9" font-size="17.9" text-anchor="end" fill="#000">40</text>
<text x="67.5" y="405.3" font-size="17.9" text-anchor="end" fill="#000">50</text>
<text x="67.5" y="353.7" font-size="17.9" text-anchor="end" fill="#000">60</text>
<text transform="translate(17.8,502) rotate(-90)" font-size="17.45" text-anchor="middle" fill="#000">Cell cycle distribution (%)</text>
<rect x="116.5" y="400.6" width="45.3" height="256.4" fill="#fff" stroke="#000" stroke-width="1.3"/>
<rect x="161.8" y="441.3" width="45.1" height="215.7" fill="#000"/>
<path d="M139.2,400.3 v-2" fill="none" stroke="#000" stroke-width="1.2"/>
<path d="M135.9,398.3 h6.6" fill="none" stroke="#000" stroke-width="1.4"/>
<path d="M184.1,441.3 v-0.7" fill="none" stroke="#000" stroke-width="1.2"/>
<path d="M180.8,440.6 h6.6" fill="none" stroke="#000" stroke-width="1.4"/>
<text x="160.9" y="684.2" font-size="17" text-anchor="middle" fill="#000">G0/G1</text>
<rect x="273.6" y="527" width="44.9" height="130" fill="#fff" stroke="#000" stroke-width="1.3"/>
<rect x="318.5" y="504.8" width="45.8" height="152.2" fill="#000"/>
<path d="M296.2,526.7 v-2.5" fill="none" stroke="#000" stroke-width="1.2"/>
<path d="M292.9,524.2 h6.6" fill="none" stroke="#000" stroke-width="1.4"/>
<path d="M341.1,504.8 v-2.2" fill="none" stroke="#000" stroke-width="1.2"/>
<path d="M337.8,502.6 h6.6" fill="none" stroke="#000" stroke-width="1.4"/>
<text x="318.4" y="684.2" font-size="17" text-anchor="middle" fill="#000">S</text>
<rect x="430.9" y="527.6" width="44.5" height="129.4" fill="#fff" stroke="#000" stroke-width="1.3"/>
<rect x="475.4" y="507.4" width="46.4" height="149.6" fill="#000"/>
<path d="M453.2,527.3 v-3.1" fill="none" stroke="#000" stroke-width="1.2"/>
<path d="M449.9,524.2 h6.6" fill="none" stroke="#000" stroke-width="1.4"/>
<path d="M498.3,507.4 v-2.5" fill="none" stroke="#000" stroke-width="1.2"/>
<path d="M495,504.9 h6.6" fill="none" stroke="#000" stroke-width="1.4"/>
<text x="476" y="684.2" font-size="17" text-anchor="middle" fill="#000">G2/M</text>
<text x="186" y="430.8" font-size="24" font-weight="bold" text-anchor="middle" fill="#000">*</text>
<text x="341.4" y="491.6" font-size="24" font-weight="bold" text-anchor="middle" fill="#000">*</text>
<text x="500" y="495.4" font-size="24" font-weight="bold" text-anchor="middle" fill="#000">*</text>
<rect x="407.8" y="344.9" width="8.4" height="7.5" fill="#fff" stroke="#000" stroke-width="1.2"/>
<text x="420.4" y="354.3" font-size="16.8" fill="#000">Controlled cells</text>
<rect x="407.2" y="379" width="9.7" height="9.4" fill="#000"/>
<text x="420.4" y="389.4" font-size="16.8" fill="#000">Repairing cells</text>
</svg>
</body></html>
